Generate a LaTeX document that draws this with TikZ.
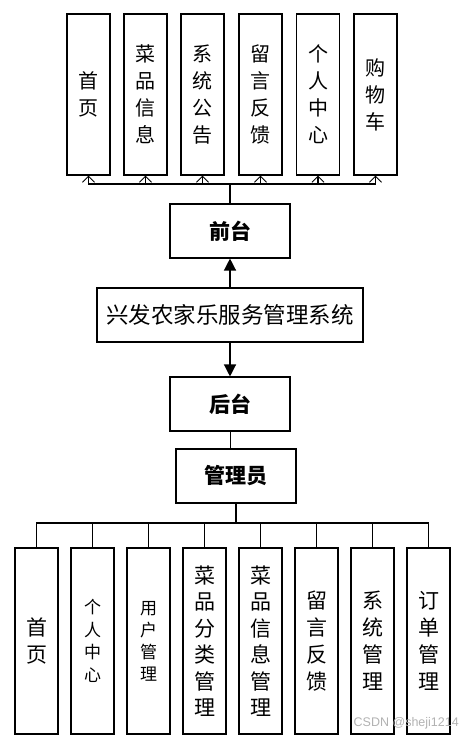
\documentclass[tikz,border=0pt]{standalone}
\usepackage{fontspec}
\newfontfamily\cjk{Noto Sans CJK SC}
\newfontfamily\wmfont{Liberation Sans}
\usetikzlibrary{arrows.meta}
\tikzset{
    box/.style={draw,line width=1.1pt,inner sep=0pt,align=center},
    upbus/.style={draw,line width=1.1pt,-{Straight Barb[length=6pt,width=12pt,line width=1pt]},to path={-| (\tikztotarget.south)}},
    downbus/.style={draw,line width=1.1pt,to path={-| (\tikztotarget.north)}}
}
\begin{document}
\begin{tikzpicture}[x=1pt,y=-1pt]
        \useasboundingbox (0,0) rectangle (474,741);
        % front end modules
        \begin{scope}[every node/.style={box,minimum width=43pt,minimum height=161pt,font=\cjk\fontsize{20}{27}\selectfont}]
            \node (t1) at (88.5,94.5) {首\\页};
            \node (t2) at (145.5,94.5) {菜\\品\\信\\息};
            \node (t3) at (202.5,94.5) {系\\统\\公\\告};
            \node (t4) at (260.5,94.5) {留\\言\\反\\馈};
            \node (t5) at (318,94.5) {个\\人\\中\\心};
            \node (t6) at (375.5,94.5) {购\\物\\车};
        \end{scope}
        % middle column
        \begin{scope}[every node/.style={box,minimum width=120pt,minimum height=54pt,font=\cjk\bfseries\fontsize{21}{24}\selectfont}]
            \node (front) at (230,231) {前台};
            \node (back) at (230,404) {后台};
            \node (admin) at (236,476) {管理员};
        \end{scope}
        \node[box,minimum width=266pt,minimum height=54pt,font=\cjk\fontsize{22.5}{24}\selectfont] (sys) at (230,315) {兴发农家乐服务管理系统};
        % back end modules
        \begin{scope}[every node/.style={box,minimum width=43pt,minimum height=186pt}]
            \node[font=\cjk\fontsize{21}{27}\selectfont] (b1) at (36.5,641) {首\\页};
            \node[font=\cjk\fontsize{17}{22.5}\selectfont] (b2) at (92.5,641) {个\\人\\中\\心};
            \node[font=\cjk\fontsize{17}{22}\selectfont] (b3) at (148.5,641) {用\\户\\管\\理};
            \node[font=\cjk\fontsize{21}{26.5}\selectfont] (b4) at (204.5,641) {菜\\品\\分\\类\\管\\理};
            \node[font=\cjk\fontsize{21}{26.5}\selectfont] (b5) at (260.5,641) {菜\\品\\信\\息\\管\\理};
            \node[font=\cjk\fontsize{21}{27}\selectfont] (b6) at (316.5,641) {留\\言\\反\\馈};
            \node[font=\cjk\fontsize{21}{27}\selectfont] (b7) at (372.5,641) {系\\统\\管\\理};
            \node[font=\cjk\fontsize{21}{27}\selectfont] (b8) at (428.5,641) {订\\单\\管\\理};
        \end{scope}
        \coordinate (jt) at (230,184);
        \coordinate (jb) at (236,523);
        \node[font=\wmfont\fontsize{12.5}{14}\selectfont,text=black!30,anchor=east,inner sep=0pt] (wm) at (459,723) {CSDN @sheji1214};
        % connectors
        \draw[line width=1.1pt] (front) -- (jt);
        \path
            (jt) edge[upbus] (t1)
            (jt) edge[upbus] (t2)
            (jt) edge[upbus] (t3)
            (jt) edge[upbus] (t4)
            (jt) edge[upbus] (t5)
            (jt) edge[upbus] (t6);
        \draw[line width=1.3pt,-{Triangle[length=12pt,width=12pt]}] (sys) -- (front);
        \draw[line width=1.3pt,-{Triangle[length=12pt,width=12pt]}] (sys) -- (back);
        \draw[line width=1pt] (back.south) -- (back.south |- admin.north);
        \draw[line width=1.1pt] (admin) -- (jb);
        \path
            (jb) edge[downbus] (b1)
            (jb) edge[downbus] (b2)
            (jb) edge[downbus] (b3)
            (jb) edge[downbus] (b4)
            (jb) edge[downbus] (b5)
            (jb) edge[downbus] (b6)
            (jb) edge[downbus] (b7)
            (jb) edge[downbus] (b8);
\end{tikzpicture}
\end{document}
